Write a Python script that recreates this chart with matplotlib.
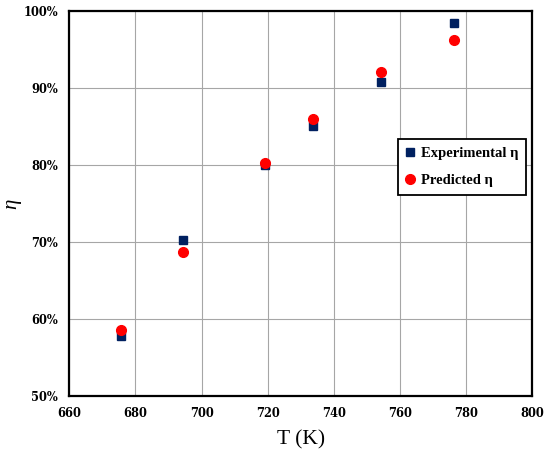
import matplotlib.pyplot as plt
from matplotlib.ticker import FuncFormatter

temps = [675.6, 694.5, 719.2, 733.8, 754.1, 776.4]
eta_exp = [57.8, 70.2, 80.0, 85.1, 90.7, 98.4]
eta_pred = [58.5, 68.7, 80.3, 85.9, 92.0, 96.2]

serif = ['Liberation Serif', 'DejaVu Serif']
plt.rcParams['font.family'] = 'DejaVu Serif'
plt.rcParams['font.weight'] = 'bold'

fig = plt.figure(figsize=(5.5, 4.53), dpi=100)
ax = fig.add_axes([0.126, 0.126, 0.842, 0.85])

ax.plot(temps, eta_exp, linestyle='none', marker='s', markersize=6.3,
        color='#002060', label='Experimental η', zorder=3)
ax.plot(temps, eta_pred, linestyle='none', marker='o', markersize=7,
        color='#ff0000', label='Predicted η', zorder=3)

ax.set_xlim(660, 800)
ax.set_ylim(50, 100)
ax.set_xticks(range(660, 801, 20))
ax.set_yticks(range(50, 101, 10))
ax.yaxis.set_major_formatter(FuncFormatter(lambda v, p: f'{v:.0f}%'))
ax.tick_params(length=0, pad=8, labelsize=8.3)

ax.grid(True, color='#a6a6a6', linewidth=0.8)
ax.set_axisbelow(True)
for s in ax.spines.values():
    s.set_linewidth(1.6)
    s.set_color('black')

ax.set_xlabel('T (K)', family=serif, fontweight='normal', fontsize=15.5, labelpad=7)
ax.set_ylabel('η', family=serif, fontweight='normal', style='italic', fontsize=15)
ax.yaxis.set_label_coords(-0.103, 0.5)

leg = ax.legend(loc='upper left', bbox_to_anchor=(0.71, 0.668), frameon=True,
                fancybox=False, edgecolor='black', framealpha=1,
                prop={'family': serif, 'weight': 'bold', 'size': 10.5},
                handlelength=0.6, handletextpad=0.4, labelspacing=0.95,
                borderpad=0.55, borderaxespad=0)
leg.get_frame().set_linewidth(1.3)

fig.savefig('out.png', dpi=100)
